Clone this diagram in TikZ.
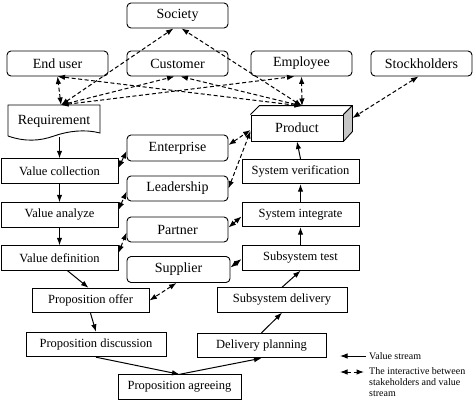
\documentclass[tikz,border=0pt]{standalone}
\usepackage{fontspec}
\setmainfont{Liberation Serif}
\usetikzlibrary{arrows.meta}
\begin{document}
\begin{tikzpicture}[x=1pt,y=-1pt,
 stake/.style={draw, rounded corners=4pt, line width=0.9pt, inner sep=0pt, minimum width=101pt, minimum height=25pt, font=\fontsize{14}{16}\selectfont},
 vbox/.style={draw, line width=0.9pt, inner sep=0pt, minimum height=24.5pt, font=\fontsize{12.5}{14}\selectfont},
 flow/.style={-{Latex[length=7.5pt,width=5.5pt]}, line width=1pt},
 inter/.style={{Latex[length=7.5pt,width=5.5pt]}-{Latex[length=7.5pt,width=5.5pt]}, dash pattern=on 4pt off 2.5pt, line width=1pt},
 legtext/.style={inner sep=0pt, font=\fontsize{10}{11}\selectfont}
]
\useasboundingbox (0,0) rectangle (474,402);

% stakeholders
\node[stake] (society) at (177.5,15.5) {Society};
\node[stake] (enduser) at (57.5,63.5) {End user};
\node[stake] (customer) at (177.5,63.5) {Customer};
\node[stake] (employee) at (301.5,63.5) {Employee};
\node[stake] (stock) at (421.5,63.5) {Stockholders};
\node[stake, minimum height=26pt] (ent) at (177.5,148) {Enterprise};
\node[stake] (lead) at (177.5,188.5) {Leadership};
\node[stake] (part) at (177.5,229.5) {Partner};
\node[stake, minimum width=103pt, minimum height=26pt] (supp) at (178.5,269.5) {Supplier};

% requirement (document shape)
\node[inner sep=0pt, minimum width=92pt, minimum height=32pt, font=\fontsize{14}{16}\selectfont] (req) at (54,121) {Requirement};
\draw[line width=0.9pt] (8,136) -- (8,105) -- (100,105) -- (100,133)
  .. controls (85,129) and (68,131) .. (54,136)
  .. controls (40,141) and (25,142) .. (8,136);

% product (3D box)
\node[draw, line width=0.9pt, inner sep=0pt, minimum width=92pt, minimum height=26pt, font=\fontsize{14}{16}\selectfont] (prod) at (297,128) {Product};
\draw[line width=0.9pt, line join=round] (prod.north west) -- ++(9,-9) -- ([shift={(9,-9)}]prod.north east) -- (prod.north east);
\draw[line width=0.9pt, line join=round, fill=gray!45] (prod.north east) -- ++(9,-9) -- ++(0,26) -- (prod.south east) -- cycle;

% value stream boxes
\node[vbox, minimum width=117pt] (vc) at (59.5,171) {Value collection};
\node[vbox, minimum width=117pt] (va) at (59.5,215) {Value analyze};
\node[vbox, minimum width=117pt] (vd) at (59.5,258) {Value definition};
\node[vbox, minimum width=117pt] (po) at (90.5,300.5) {Proposition offer};
\node[vbox, minimum width=140pt] (pd) at (96,344.5) {Proposition discussion};
\node[vbox, minimum width=123pt] (pa) at (179.5,387) {Proposition agreeing};
\node[vbox, minimum width=129pt] (dp) at (261.5,345.5) {Delivery planning};
\node[vbox, minimum width=130pt] (sd) at (282,300) {Subsystem delivery};
\node[vbox, minimum width=117pt] (st) at (300.5,258) {Subsystem test};
\node[vbox, minimum width=117pt] (si) at (300.5,214.5) {System integrate};
\node[vbox, minimum width=117pt] (sv) at (300.5,171.5) {System verification};

% value stream arrows
\draw[flow] (vc.north |- 0,137) -- (vc.north);
\draw[flow] (vc.south) -- (va.north);
\draw[flow] (va.south) -- (vd.north);
\draw[flow] ([xshift=8]vd.south) -- ([xshift=-2]po.north);
\draw[flow] (po.south) -- (pd.north);
\draw[flow] (pd.south) -- (pa.north);
\draw[flow] (pa.north) -- (dp.south);
\draw[flow] (dp.north) -- (sd.south);
\draw[flow] (sd.north) -- (st.south);
\draw[flow] (st.north) -- (si.south);
\draw[flow] (si.north) -- (sv.south);
\draw[flow] (sv.north) -- (prod.south);

% interaction arrows (top)
\coordinate (rtop) at (61,105);
\coordinate (ptop) at (302,106);
\draw[inter] (rtop) -- ([xshift=-4]society.south);
\draw[inter] (ptop) -- ([xshift=4]society.south);
\draw[inter] (rtop) -- (enduser.south);
\draw[inter] (ptop) -- (enduser.south);
\draw[inter] (rtop) -- ([xshift=-3]customer.south);
\draw[inter] (ptop) -- ([xshift=3]customer.south);
\draw[inter] (rtop) -- ([xshift=-7]employee.south);
\draw[inter] (ptop) -- (employee.south);
\draw[inter] ([xshift=-3]stock.south) -- ([shift={(9,-10)}]prod.east);

% interaction arrows (middle)
\draw[inter] ([yshift=3]vc.east) -- ([yshift=-3]ent.west);
\draw[inter] ([yshift=5]va.east) -- ([yshift=-3]lead.west);
\draw[inter] ([yshift=5]vd.east) -- ([yshift=-3]part.west);
\draw[inter] ([yshift=3]ent.east) -- ([yshift=-2]prod.west);
\draw[inter] (lead.east) -- ([yshift=-3]prod.west);
\draw[inter] ([yshift=2]part.east) -- ([yshift=-2]si.west);
\draw[inter] ([yshift=2]supp.east) -- ([yshift=-1]st.west);
\draw[inter] ([xshift=-2]supp.south) -- (po.east);

% legend
\coordinate (l1a) at (340,356);
\coordinate (l1b) at (366,356);
\coordinate (l2a) at (340,372);
\coordinate (l2b) at (364,372);
\draw[flow] (l1b) -- (l1a);
\draw[inter] (l2a) -- (l2b);
\node[legtext, anchor=west] (leg1) at (369,356) {Value stream};
\node[legtext, anchor=north west, align=left] (leg2) at (369,367) {The interactive between\\stakeholders and value\\stream};
\end{tikzpicture}
\end{document}
